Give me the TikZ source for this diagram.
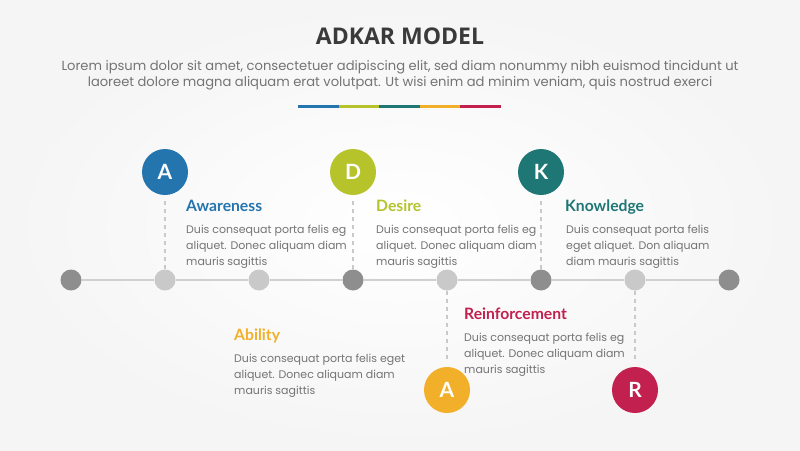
\documentclass[tikz,border=0pt]{standalone}
\usepackage{fontspec}
\setmainfont{Poppins}
\newfontfamily\titlefont{Open Sans}
\newfontfamily\headfont{Lato}
\usetikzlibrary{positioning}
\definecolor{cblue}{HTML}{2474AE}
\definecolor{clime}{HTML}{B6C32B}
\definecolor{cteal}{HTML}{1E7675}
\definecolor{camber}{HTML}{F2B02A}
\definecolor{ccrim}{HTML}{C2204E}
\definecolor{cdark}{HTML}{8E8E8E}
\definecolor{clight}{HTML}{C9C9C9}
\definecolor{cline}{HTML}{D0D0D0}
\definecolor{ctext}{HTML}{747474}
\definecolor{ctitle}{HTML}{3A3A3A}
\begin{document}
\begin{tikzpicture}[x=1pt,y=-1pt,
  bigc/.style={circle,minimum size=46pt,inner sep=0pt,text=white,font=\headfont\bfseries\fontsize{21}{21}\selectfont},
  dotd/.style={circle,minimum size=21pt,inner sep=0pt,fill=cdark},
  dotl/.style={circle,minimum size=21pt,inner sep=0pt,fill=clight},
  head/.style={anchor=base west,inner sep=0pt,font=\headfont\bfseries\fontsize{15.7}{16}\selectfont},
  body/.style={anchor=north west,inner sep=0pt,text=ctext,align=left,font=\fontsize{11}{16}\selectfont},
  dashline/.style={draw=clight,line width=1.3pt,dash pattern=on 4pt off 4pt}
]
\shade[inner color=white,outer color=black!4] (0,0) rectangle (800,450);
\useasboundingbox (0,0) rectangle (800,450);
\node[font=\titlefont\bfseries\fontsize{23}{23}\selectfont,text=ctitle] (title) at (400,36) {ADKAR MODEL};
\node[align=center,text=ctext,font=\fontsize{13.1}{16}\selectfont] (sub) at (400,75) {Lorem ipsum dolor sit amet, consectetuer adipiscing elit, sed diam nonummy nibh euismod tincidunt ut\\laoreet dolore magna aliquam erat volutpat. Ut wisi enim ad minim veniam, quis nostrud exerci};
\foreach \c [count=\i from 0] in {cblue,clime,cteal,camber,ccrim}
  \fill[\c] (298+\i*40.6,104.5) rectangle (298+\i*40.6+40.6,107.5);
% timeline
\foreach \n/\x/\s in {d1/71/dotd,d2/165/dotl,d3/259/dotl,d4/353/dotd,d5/447/dotl,d6/541/dotd,d7/635/dotl,d8/729/dotd}
  \node[\s] (\n) at (\x,280) {};
\foreach \a/\b in {d1/d2,d2/d3,d3/d4,d4/d5,d5/d6,d6/d7,d7/d8}
  \draw[cline,line width=2pt] (\a) -- (\b);
% big circles
\node[bigc,fill=cblue] (cA) at (165,172) {A};
\node[bigc,fill=clime] (cD) at (353,172) {D};
\node[bigc,fill=cteal] (cK) at (541,172) {K};
\node[bigc,fill=camber] (cA2) at (447,390) {A};
\node[bigc,fill=ccrim] (cR) at (635,390) {R};
\draw[dashline] ([yshift=-6pt]cA.south) -- (d2.north);
\draw[dashline] ([yshift=-6pt]cD.south) -- (d4.north);
\draw[dashline] ([yshift=-6pt]cK.south) -- (d6.north);
\draw[dashline] (d5.south) -- ([yshift=6pt]cA2.north);
\draw[dashline] (d7.south) -- ([yshift=6pt]cR.north);
% texts
\node[head,text=cblue] (hA) at (186,211.5) {Awareness};
\node[body] (bA) at (186,225) {Duis consequat porta felis eg\\aliquet. Donec aliquam diam\\mauris sagittis};
\node[head,text=clime] (hD) at (376,211.5) {Desire};
\node[body] (bD) at (376,225) {Duis consequat porta felis eg\\aliquet. Donec aliquam diam\\mauris sagittis};
\node[head,text=cteal] (hK) at (565,211.5) {Knowledge};
\node[body] (bK) at (566,225) {Duis consequat porta felis\\eget aliquet. Don aliquam\\diam mauris sagittis};
\node[head,text=camber] (hAb) at (234,340.5) {Ability};
\node[body] (bAb) at (234,354) {Duis consequat porta felis eget\\aliquet. Donec aliquam diam\\mauris sagittis};
\node[head,text=ccrim] (hR) at (464,319.5) {Reinforcement};
\node[body] (bR) at (464,333) {Duis consequat porta felis eg\\aliquet. Donec aliquam diam\\mauris sagittis};
\end{tikzpicture}
\end{document}
